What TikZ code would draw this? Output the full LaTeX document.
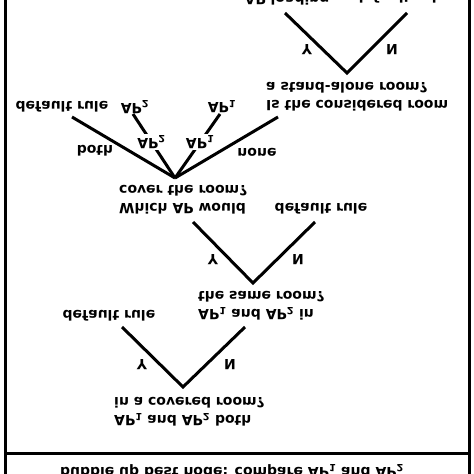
\documentclass[tikz,border=0pt]{standalone}
\usepackage{fontspec}
\setmainfont{DejaVu Sans}
\begin{document}
\begin{tikzpicture}[x=1pt,y=1pt,yscale=-1,transform shape,
  txt/.style={font=\fontsize{14}{18}\selectfont\bfseries,inner sep=1pt},
  ml/.style={txt,align=left,anchor=west},
  elab/.style={txt,fill=white,inner sep=2pt},
  br/.style={line width=3pt},
  frame/.style={line width=3pt}]
\useasboundingbox (0,0) rectangle (474,474);
\clip (0,0) rectangle (474,474);
\fill[white] (0,0) rectangle (474,474);
% frame
\draw[frame] (5,-20) rectangle (469,500);
\draw[frame] (5,453) -- (469,453);
\node[txt] (hdr) at (232,471) {bubble up best node: compare AP\textsubscript{1} and AP\textsubscript{2}};
% tree 1
\node[ml] (q1) at (113,412) {AP\textsubscript{1} and AP\textsubscript{2} both\\in a covered room?};
\coordinate (a1) at (183,387);
\coordinate (l1) at (122,327);
\coordinate (r1) at (245,327);
\draw[br,line join=miter] (l1) -- (a1) -- (r1);
\node[txt] (y1) at (142,365) {Y};
\node[txt] (n1) at (230,365) {N};
\node[txt] (d1) at (109,316) {default rule};
% tree 2
\node[ml] (q2) at (197,306) {AP\textsubscript{1} and AP\textsubscript{2} in\\the same room?};
\coordinate (a2) at (253,283);
\coordinate (l2) at (193,222);
\coordinate (r2) at (315,222);
\draw[br] (l2) -- (a2) -- (r2);
\node[txt] (y2) at (213,260) {Y};
\node[txt] (n2) at (298,260) {N};
\node[txt] (d2) at (321,209) {default rule};
% tree 3
\node[ml] (q3) at (118,200) {Which AP would\\cover the room?};
\coordinate (a3) at (175,178);
\coordinate (e31) at (72,117);
\coordinate (e32) at (133,114);
\coordinate (e33) at (220,114);
\coordinate (e34) at (278,117);
\draw[br] (a3) -- (e31);
\draw[br] (a3) -- (e34);
\draw[br] (a3) -- node[elab,pos=0.56] (l32) {AP\textsubscript{2}} (e32);
\draw[br] (a3) -- node[elab,pos=0.56] (l33) {AP\textsubscript{1}} (e33);
\node[txt] (both) at (95,151) {both};
\node[txt] (none) at (257,152) {none};
\node[txt] (d3) at (62,107) {default rule};
\node[txt] (p2) at (135,107) {AP\textsubscript{2}};
\node[txt] (p1) at (222,107) {AP\textsubscript{1}};
\node[ml] (q4) at (265,97) {Is the considered room\\a stand-alone room?};
% tree 4
\coordinate (a4) at (347,73);
\coordinate (l4) at (285,13);
\coordinate (r4) at (407,13);
\draw[br] (l4) -- (a4) -- (r4);
\node[txt] (y4) at (307,50) {Y};
\node[txt] (n4) at (392,50) {N};
\node[txt] (apl) at (287,-2) {AP loading};
\node[txt] (d4) at (400,-2) {default rule};
\end{tikzpicture}
\end{document}
